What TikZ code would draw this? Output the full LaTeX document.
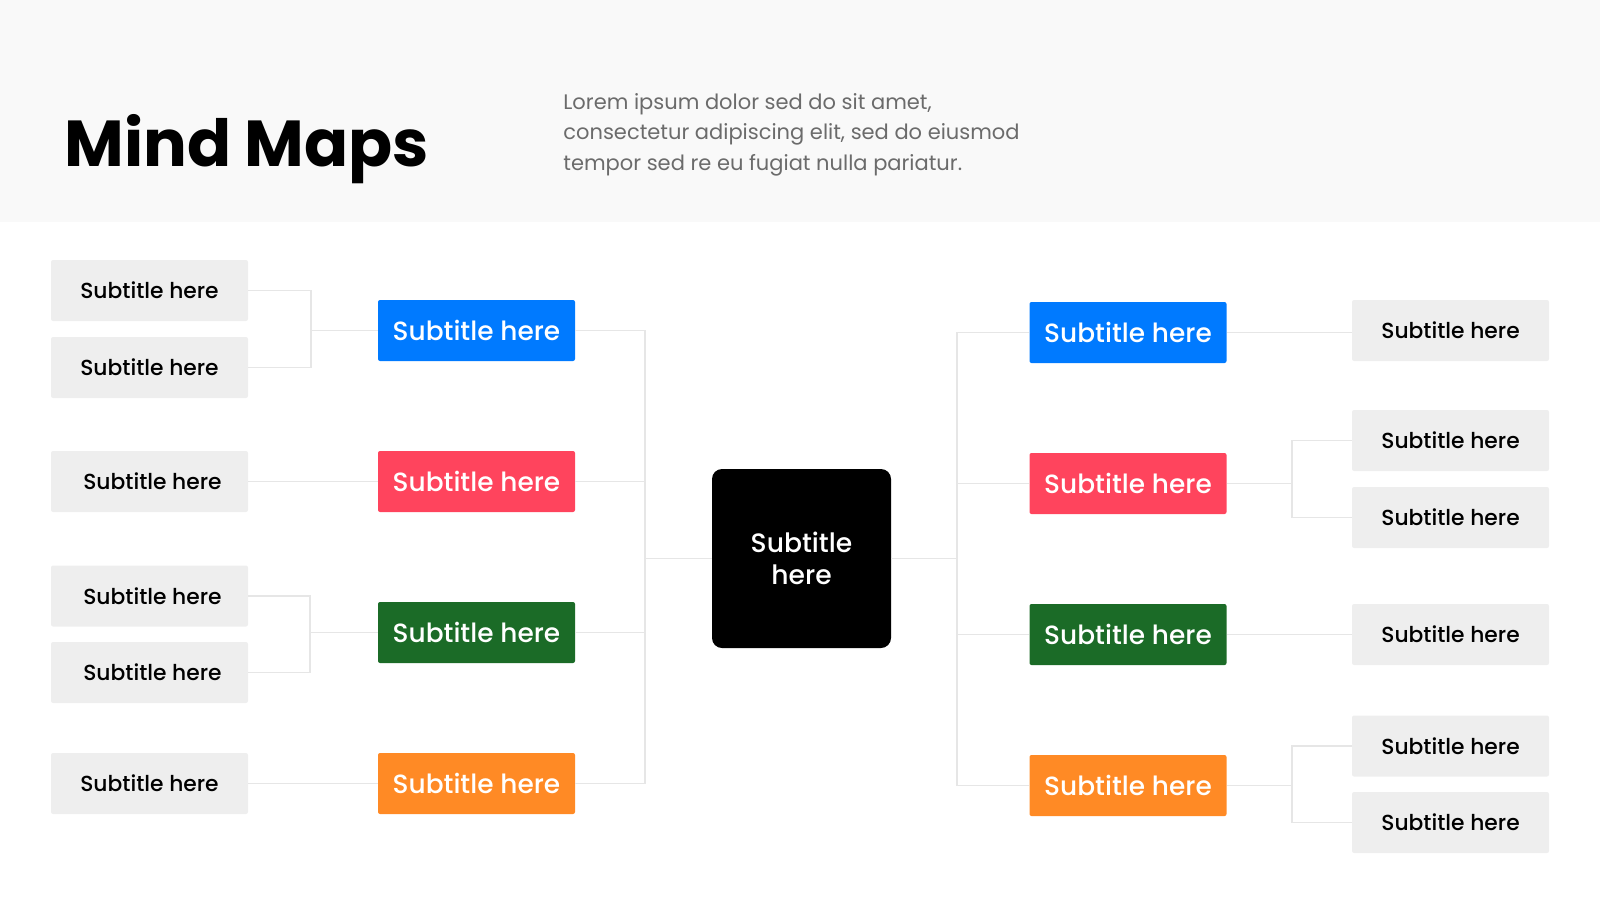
\documentclass[tikz,border=0pt]{standalone}
\usepackage{fontspec}
\setmainfont{Poppins}
\newfontfamily\medfont{Poppins Medium}
\usetikzlibrary{calc,positioning}

\definecolor{hdrgray}{HTML}{F9F9F9}
\definecolor{boxgray}{HTML}{EEEEEE}
\definecolor{linegray}{HTML}{E6E6E6}
\definecolor{txtgray}{HTML}{6B6B6B}
\definecolor{mblue}{HTML}{007AFF}
\definecolor{mred}{HTML}{FF445D}
\definecolor{mgreen}{HTML}{1B6B27}
\definecolor{morange}{HTML}{FF8A25}

\tikzset{
	leaf/.style={fill=boxgray, rounded corners=1pt, inner sep=0pt,
		minimum width=98.5pt, minimum height=30.5pt,
		font=\medfont\fontsize{10.9}{13}\selectfont},
	branch/.style={fill=#1, rounded corners=1pt, inner sep=0pt, text=white,
		minimum width=98.5pt, minimum height=30.5pt,
		font=\medfont\fontsize{13.2}{16}\selectfont},
	conn/.style={draw=linegray, line width=0.75pt},
}

\begin{document}
\begin{tikzpicture}[x=0.5pt,y=-0.5pt]
	\useasboundingbox (0,0) rectangle (1600,900);
	
	% header band
	\fill[hdrgray] (0,0) rectangle (1600,222);
	\node[anchor=base west, inner sep=0pt, font=\bfseries\fontsize{32.5}{38}\selectfont] (title) at (64,166) {Mind Maps};
	\node[anchor=north west, inner sep=0pt, align=left, text=txtgray,
	font=\fontsize{10.5}{15.3}\selectfont] (intro) at (563,93)
	{Lorem ipsum dolor sed do sit amet,\\
		consectetur adipiscing elit, sed do eiusmod\\
		tempor sed re eu fugiat nulla pariatur.};
	
	% center
	\node[fill=black, rounded corners=5pt, minimum width=89.5pt, minimum height=89.5pt,
	inner sep=0pt, text=white, align=center, font=\medfont\fontsize{13.3}{16}\selectfont]
	(hub) at (801.5,558.5) {Subtitle\\here};
	
	% left branches
	\node[branch=mblue] (lblue) at (476.5,330.5) {Subtitle here};
	\node[branch=mred] (lred) at (476.5,481.5) {Subtitle here};
	\node[branch=mgreen] (lgreen) at (476.5,632.5) {Subtitle here};
	\node[branch=morange] (lorange) at (476.5,783.5) {Subtitle here};
	
	% left leaves
	\node[leaf] (la1) at (149.5,290.5) {Subtitle here};
	\node[leaf] (la2) at (149.5,367.5) {Subtitle here};
	\node[leaf] (lb1) at (149.5,481.5) {\hspace{3pt}Subtitle here};
	\node[leaf] (lc1) at (149.5,596) {\hspace{3pt}Subtitle here};
	\node[leaf] (lc2) at (149.5,672.5) {\hspace{3pt}Subtitle here};
	\node[leaf] (ld1) at (149.5,783.5) {Subtitle here};
	
	% right branches
	\node[branch=mblue] (rblue) at (1128,332.5) {Subtitle here};
	\node[branch=mred] (rred) at (1128,483.5) {Subtitle here};
	\node[branch=mgreen] (rgreen) at (1128,634.5) {Subtitle here};
	\node[branch=morange] (rorange) at (1128,785.5) {Subtitle here};
	
	% right leaves
	\node[leaf] (ra1) at (1450.5,330.5) {Subtitle here};
	\node[leaf] (rb1) at (1450.5,440.5) {Subtitle here};
	\node[leaf] (rb2) at (1450.5,517.5) {Subtitle here};
	\node[leaf] (rc1) at (1450.5,634.5) {Subtitle here};
	\node[leaf] (rd1) at (1450.5,746) {Subtitle here};
	\node[leaf] (rd2) at (1450.5,822.5) {Subtitle here};
	
	% joints
	\coordinate (ltrunk) at (645,558.5);
	\coordinate (rtrunk) at (957,558.5);
	\coordinate (ja) at (311,330.5);
	\coordinate (jc) at (310,632.5);
	\coordinate (jb) at (1292,483.5);
	\coordinate (jd) at (1292,785.5);
	
	% connectors, left
	\draw[conn] (la1.east) -| (ja) |- (la2.east);
	\draw[conn] (ja) -- (lblue.west);
	\draw[conn] (lb1.east) -- (lred.west);
	\draw[conn] (lc1.east) -| (jc) |- (lc2.east);
	\draw[conn] (jc) -- (lgreen.west);
	\draw[conn] (ld1.east) -- (lorange.west);
	\foreach \b in {lblue,lred,lgreen,lorange}
	\draw[conn] (\b.east) -| (ltrunk);
	\draw[conn] (ltrunk) -- (hub.west);
	
	% connectors, right
	\draw[conn] (hub.east) -- (rtrunk);
	\foreach \b in {rblue,rred,rgreen,rorange}
	\draw[conn] (rtrunk) |- (\b.west);
	\draw[conn] (rblue.east) -- (ra1.west |- rblue.east);
	\draw[conn] (rred.east) -- (jb);
	\draw[conn] (jb) |- (rb1.west);
	\draw[conn] (jb) |- (rb2.west);
	\draw[conn] (rgreen.east) -- (rc1.west);
	\draw[conn] (rorange.east) -- (jd);
	\draw[conn] (jd) |- (rd1.west);
	\draw[conn] (jd) |- (rd2.west);
	
\end{tikzpicture}
\end{document}
